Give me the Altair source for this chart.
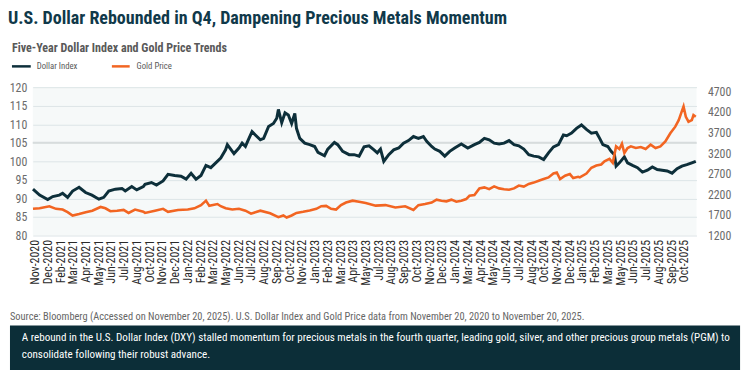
import altair as alt
import pandas as pd

# ---------------- data ----------------
x_labels = [
    "Nov-2020", "Dec-2020", "Feb-2021", "Mar-2021", "Apr-2021", "May-2021", "Jun-2021",
    "Jul-2021", "Aug-2021", "Oct-2021", "Nov-2021", "Dec-2021", "Jan-2022", "Feb-2022",
    "Mar-2022", "May-2022", "Jun-2022", "Jul-2022", "Aug-2022", "Sep-2022", "Oct-2022",
    "Nov-2022", "Jan-2023", "Feb-2023", "Mar-2023", "Apr-2023", "May-2023", "Jul-2023",
    "Aug-2023", "Sep-2023", "Oct-2023", "Nov-2023", "Dec-2023", "Jan-2024", "Mar-2024",
    "Apr-2024", "May-2024", "Jun-2024", "Jul-2024", "Aug-2024", "Oct-2024", "Nov-2024",
    "Dec-2024", "Jan-2025", "Feb-2025", "Mar-2025", "May-2025", "Jun-2025", "Jul-2025",
    "Aug-2025", "Sep-2025", "Oct-2025",
]

# position along the timeline, in label steps
dollar_t = [
    -0.13, 0.39, 1.03, 1.42, 1.94, 2.2, 2.59, 2.98, 3.49, 4.0, 4.5, 5.05, 5.43, 5.82,
    6.34, 6.86, 7.12, 7.63, 8.02, 8.54, 8.67, 9.18, 9.57, 10.09, 10.48, 11.0, 11.5,
    11.9, 12.29, 12.68, 13.07, 13.46, 13.84, 14.23, 14.62, 15.0, 15.14, 15.66, 16.05,
    16.3, 16.56, 16.75, 17.08, 17.34, 17.73, 17.99, 18.38, 18.76, 19.02, 19.15, 19.41,
    19.67, 19.93, 20.19, 20.44, 20.57, 20.83, 21.22, 21.61, 22.0, 22.26, 22.77, 23.03,
    23.55, 23.81, 24.2, 24.71, 25.1, 25.49, 25.88, 26.27, 26.66, 26.92, 27.17, 27.43,
    27.82, 28.21, 28.6, 28.98, 29.37, 29.76, 30.15, 30.54, 30.8, 31.19, 31.44, 31.83,
    32.22, 32.61, 33.0, 33.52, 34.03, 34.55, 34.94, 35.33, 35.71, 36.1, 36.49, 36.88,
    37.27, 37.66, 38.04, 38.43, 38.82, 39.21, 39.6, 39.99, 40.37, 40.76, 41.15, 41.54,
    41.8, 42.18, 42.57, 42.96, 43.35, 43.74, 44.13, 44.39, 44.64, 45.03, 45.29, 45.55,
    45.68, 45.94, 46.33, 46.58, 46.97, 47.36, 47.75, 48.14, 48.53, 48.91, 49.3, 49.69,
    50.08, 50.47, 50.85, 51.24, 51.63, 51.94,
]
dollar_v = [
    92.5, 90.9, 89.7, 90.5, 90.9, 91.4, 90.3, 92.0, 93.0, 91.6, 90.9, 89.8, 90.3, 92.0,
    92.5, 92.7, 92.0, 93.2, 92.3, 93.2, 93.8, 94.3, 93.6, 94.7, 96.5, 96.2, 96.0,
    95.2, 96.8, 95.2, 96.2, 98.9, 98.3, 99.6, 100.9, 103.1, 104.5, 102.1, 103.6,
    104.9, 104.0, 105.5, 108.0, 107.1, 105.8, 106.2, 109.4, 110.2, 111.6, 114.0, 110.4,
    113.1, 112.5, 110.2, 112.9, 108.9, 106.2, 104.9, 104.5, 104.0, 102.4, 101.5, 103.3,
    105.1, 104.5, 102.7, 101.8, 101.8, 101.4, 103.9, 104.2, 103.1, 102.3, 103.3, 100.0,
    101.8, 103.1, 103.6, 104.9, 105.6, 106.7, 106.2, 106.7, 105.4, 104.0, 103.3, 102.7,
    101.4, 102.7, 103.6, 104.7, 103.6, 104.5, 105.1, 106.2, 105.8, 104.9, 104.7, 104.9,
    105.6, 104.5, 104.2, 103.3, 101.8, 101.4, 101.2, 100.5, 102.3, 103.9, 104.5, 107.1,
    106.9, 107.6, 108.9, 109.8, 108.6, 107.6, 107.8, 106.2, 104.5, 104.0, 102.7, 101.8,
    98.7, 99.6, 101.2, 99.6, 98.9, 98.3, 97.1, 97.6, 98.5, 97.8, 97.6, 97.4,
    96.8, 98.0, 98.7, 99.1, 99.6, 100.0,
]

gold_t = [
    -0.13, 0.39, 1.16, 1.68, 2.2, 2.59, 2.98, 3.49, 4.01, 4.53, 5.18, 5.56, 5.95, 6.47,
    6.99, 7.38, 7.89, 8.54, 8.67, 9.45, 10.09, 10.48, 11.26, 12.03, 12.55, 13.07, 13.46,
    13.72, 14.36, 14.62, 15.01, 15.53, 16.05, 16.56, 17.0, 17.4, 17.73, 18.5, 19.15,
    19.54, 19.8, 20.19, 20.57, 21.09, 21.61, 22.13, 22.52, 22.9, 23.29, 23.68, 24.07,
    24.46, 24.98, 25.49, 26.01, 26.79, 27.56, 28.34, 29.11, 29.76, 30.15, 30.67, 31.19,
    31.58, 31.96, 32.35, 32.74, 33.13, 33.52, 33.9, 34.16, 34.55, 34.94, 35.33, 35.71,
    36.1, 36.49, 36.88, 37.27, 37.66, 38.04, 38.43, 38.82, 39.21, 39.6, 39.99, 40.37,
    40.76, 41.02, 41.28, 41.67, 42.05, 42.31, 42.7, 42.83, 43.35, 43.74, 44.13, 44.51,
    44.77, 45.16, 45.42, 45.55, 45.68, 45.94, 46.14, 46.33, 46.58, 46.84, 47.23, 47.62,
    48.0, 48.39, 48.78, 49.16, 49.55, 49.94, 50.33, 50.6, 50.8, 50.98, 51.16, 51.37,
    51.63, 51.76, 51.94,
]
gold_v = [
    1848, 1861, 1911, 1848, 1830, 1767, 1686, 1722, 1767, 1803, 1893, 1861, 1790, 1803,
    1821, 1749, 1830, 1776, 1749, 1803, 1848, 1776, 1821, 1830, 1861, 1938, 2046,
    1920, 1965, 1911, 1861, 1830, 1848, 1803, 1730, 1770, 1803, 1740, 1645,
    1686, 1637, 1686, 1749, 1776, 1810, 1848, 1911, 1920, 1848, 1830, 1938,
    2000, 2046, 2020, 1989, 1925, 1938, 1880, 1911, 1821, 1938, 1965, 2000,
    2070, 2046, 2030, 2070, 2020, 2046, 2085, 2165, 2181, 2344, 2368, 2325,
    2392, 2344, 2325, 2310, 2344, 2413, 2389, 2452, 2484, 2530, 2570, 2610,
    2705, 2730, 2570, 2650, 2690, 2595, 2625, 2610, 2705, 2844, 2900, 2924,
    3003, 3060, 2964, 3163, 3363, 3300, 3427, 3203, 3323, 3363, 3323, 3347,
    3300, 3403, 3323, 3363, 3483, 3682, 3841, 4000, 4175, 4334, 4080, 3961,
    4000, 4120, 4080,
]

dollar_ticks = [80, 85, 90, 95, 100, 105, 110, 115, 120]
gold_ticks = [1200, 1700, 2200, 2700, 3200, 3700, 4200, 4700]

title_text = "U.S. Dollar Rebounded in Q4, Dampening Precious Metals Momentum"
subtitle_text = "Five-Year Dollar Index and Gold Price Trends"
series_names = ["Dollar Index", "Gold Price"]
source_text = ("Source: Bloomberg (Accessed on November 20, 2025). U.S. Dollar Index and Gold "
               "Price data from November 20, 2020 to November 20, 2025.")
note_lines = [
    "A rebound in the U.S. Dollar Index (DXY) stalled momentum for precious metals in the fourth quarter, leading gold, silver, and other precious group metals (PGM) to",
    "consolidate following their robust advance.",
]

# ---------------- styling ----------------
FONT = "Liberation Sans Narrow, Roboto Condensed, Arial Narrow, sans-serif"
DARK = "#0d2f3a"
ORANGE = "#f26522"
TEAL_TITLE = "#10394a"

df_d = pd.DataFrame({"t": dollar_t, "v": dollar_v})
df_g = pd.DataFrame({"t": gold_t, "g": gold_v})

label_js = "[" + ",".join("'" + s + "'" for s in x_labels) + "]"
x_scale = alt.Scale(domain=[-0.15, 52], nice=False, zero=False)
x_axis = alt.Axis(
    values=list(range(len(x_labels))), labelExpr=label_js + "[datum.value]",
    labelAngle=270, ticks=False, domain=False, grid=False, title=None,
    labelFont=FONT, labelFontSize=12, labelColor="#2a2a2a", labelPadding=4,
    labelOverlap=False, labelFlush=False, orient="bottom",
)
y_scale = alt.Scale(domain=[80, 120], nice=False, zero=False)
g_scale = alt.Scale(domain=[1200, 4800], nice=False, zero=False)

ref_rule = alt.Chart(pd.DataFrame({"v": [105]})).mark_rule(
    color="#d7dcdd", strokeWidth=2
).encode(y=alt.Y("v:Q", scale=y_scale, axis=None))

dollar_line = alt.Chart(df_d).mark_line(color=DARK, strokeWidth=3).encode(
    x=alt.X("t:Q", scale=x_scale, axis=x_axis),
    y=alt.Y("v:Q", scale=y_scale, axis=alt.Axis(
        values=dollar_ticks, orient="left", title=None, ticks=False, domain=False,
        grid=True, gridColor="#dde5e7", gridWidth=1, labelPadding=6,
        labelColor="#6b6b6b", labelFont=FONT, labelFontSize=12, format="d",
    )),
)

gold_line = alt.Chart(df_g).mark_line(color=ORANGE, strokeWidth=2.6).encode(
    x=alt.X("t:Q", scale=x_scale, axis=x_axis),
    y=alt.Y("g:Q", scale=g_scale, axis=alt.Axis(
        values=gold_ticks, orient="right", title=None, ticks=False, domain=False,
        grid=False, labelPadding=11, labelColor="#6b6b6b", labelFont=FONT,
        labelFontSize=12, format="d",
    )),
)


def text_layer(txt, x, y, size, color, weight="normal"):
    return alt.Chart(pd.DataFrame({"s": [txt]})).mark_text(
        align="left", baseline="middle", font=FONT, fontSize=size,
        color=color, fontWeight=weight,
    ).encode(text="s:N", x=alt.value(x), y=alt.value(y))


def rule_layer(x1, x2, y, color, w):
    return alt.Chart(pd.DataFrame({"a": [0]})).mark_rule(
        color=color, strokeWidth=w
    ).encode(x=alt.value(x1), x2=alt.value(x2), y=alt.value(y))


note_box = alt.Chart(pd.DataFrame({"a": [0]})).mark_rect(color="#0c2e38").encode(
    x=alt.value(-23), x2=alt.value(715), y=alt.value(241), y2=alt.value(286)
)

layers = [
    ref_rule, dollar_line, gold_line,
    text_layer(title_text, -25, -69, 18.2, TEAL_TITLE, "bold"),
    text_layer(subtitle_text, -21, -40, 12.2, "#595959", "bold"),
    rule_layer(-21, -2, -21, DARK, 2.5),
    text_layer(series_names[0], 4, -21, 8.8, "#595959"),
    rule_layer(80, 98, -21, ORANGE, 2.5),
    text_layer(series_names[1], 105, -21, 8.8, "#595959"),
    text_layer(source_text, -23, 232, 10.5, "#666666"),
    note_box,
    text_layer(note_lines[0], -11, 254, 11.2, "#ffffff"),
    text_layer(note_lines[1], -11, 271, 11.2, "#ffffff"),
]

chart = alt.layer(*layers).resolve_scale(y="independent").properties(
    width=671, height=150,
    padding={"left": 25, "top": 78, "right": 50, "bottom": 142},
    autosize=alt.AutoSizeParams(type="none"),
    background="#ffffff",
).configure_view(fill="#f6f9f9", stroke=None)

chart.save("out.html", embed_options={"renderer": "svg", "actions": False})
